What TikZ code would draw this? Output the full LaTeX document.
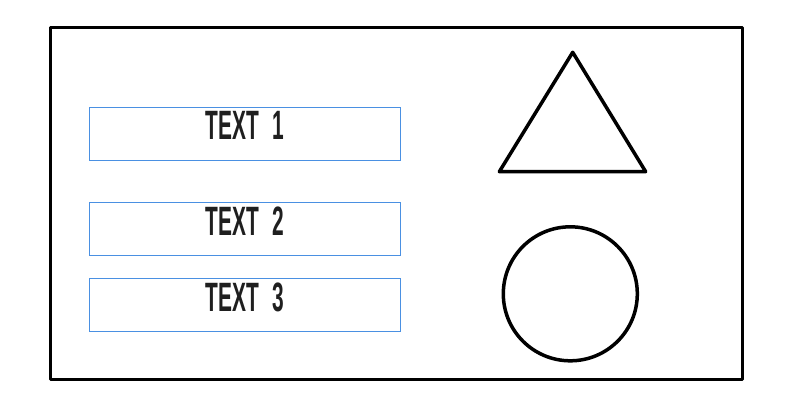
\documentclass[tikz,border=0pt]{standalone}
\usepackage{fontspec}
\setmainfont{Liberation Sans}
\definecolor{boxblue}{RGB}{74,144,226}
\begin{document}
\begin{tikzpicture}[x=1pt,y=-1pt,
  frame/.style={draw=black,line width=3.5pt,line join=round},
  figline/.style={draw=black,line width=3.5pt,line join=round,line cap=round},
  textbox/.style={draw=boxblue,line width=1pt,minimum width=311pt,minimum height=53pt,inner sep=0pt,
    font=\fontsize{41}{41}\selectfont\bfseries,text=black!88}]
\useasboundingbox (0,0) rectangle (802,416);
\draw[frame] (50.7,27.3) rectangle (742.3,379.3);
\node[textbox] (t1) at (245,133.6) {\raisebox{16pt}{\scalebox{0.51}[1]{TEXT\hspace{0.65em}1}}};
\node[textbox] (t2) at (245,229.3) {\raisebox{16pt}{\scalebox{0.51}[1]{TEXT\hspace{0.65em}2}}};
\node[textbox] (t3) at (245,305.3) {\raisebox{16pt}{\scalebox{0.51}[1]{TEXT\hspace{0.65em}3}}};
\draw[figline] (572.7,52.3) -- (645.7,171.7) -- (499.3,171.7) -- cycle;
\node[figline,circle,minimum size=134pt,inner sep=0pt] (c) at (570.3,293.8) {};
\end{tikzpicture}
\end{document}
